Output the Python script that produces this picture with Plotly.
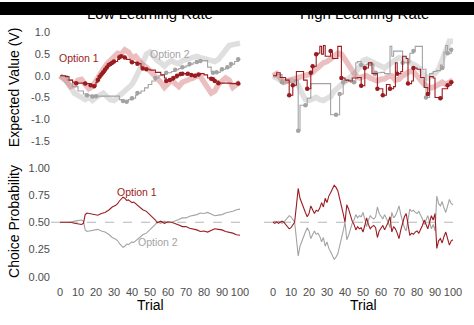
import plotly.graph_objects as go

W, H = 474, 325
FONT = "Liberation Sans, Arial, Helvetica, sans-serif"
RED = "#9b1c20"
GRAY = "#a3a3a3"
RED_THICK = "rgba(205,95,95,0.40)"
GRAY_THICK = "rgba(185,185,185,0.45)"
TICK_COLOR = "#4d4d4d"

x_ticks = list(range(0, 101, 10))
ev_ticks = [-1.5, -1.0, -0.5, 0.0, 0.5, 1.0]
ev_labels = ["-1.5", "-1.0", "-0.5", "0.0", "0.5", "1.0"]
prob_ticks = [0.0, 0.25, 0.5, 0.75, 1.0]
prob_labels = ["0.00", "0.25", "0.50", "0.75", "1.00"]
panel_titles = ["Low Learning Rate", "High Learning Rate"]
option_names = ["Option 1", "Option 2"]

# ---------------- Low learning rate ----------------
# true (latent) values of each option
low_true1_t = [0, 3, 6, 8, 10, 12, 14, 16, 18, 20, 22, 24, 26, 28, 30, 32, 34, 36, 38, 40, 42, 44, 46, 48,
               50, 52, 54, 56, 58, 60, 62, 64, 66, 68, 70, 72, 74, 76, 78, 80, 82, 84, 86, 88, 90, 92, 94,
               96, 98, 100]
low_true1_v = [0.0, -0.1, -0.25, -0.22, -0.1, -0.08, -0.2, -0.3, -0.25, -0.1, 0.05, 0.15, 0.27, 0.35, 0.45,
               0.52, 0.5, 0.6, 0.55, 0.42, 0.45, 0.35, 0.25, 0.2, 0.12, 0.05, -0.05, -0.15, -0.27, -0.2, -0.1,
               -0.18, -0.25, -0.15, -0.1, -0.08, -0.05, 0.0, -0.02, -0.15, -0.3, -0.4, -0.35, -0.2, -0.12,
               -0.05, -0.1, -0.27, -0.2, -0.15]
low_true2_t = [0, 2, 4, 6, 8, 10, 12, 14, 16, 18, 20, 22, 24, 26, 28, 30, 32, 34, 36, 38, 40, 42, 44, 46, 48,
               50, 52, 54, 56, 58, 60, 62, 64, 66, 68, 70, 72, 74, 76, 78, 80, 82, 84, 86, 88, 90, 92, 94,
               96, 98, 100]
low_true2_v = [0.0, -0.05, -0.15, -0.3, -0.4, -0.45, -0.5, -0.55, -0.5, -0.57, -0.5, -0.45, -0.4, -0.48,
               -0.55, -0.57, -0.5, -0.45, -0.38, -0.3, -0.2, -0.05, 0.1, 0.3, 0.5, 0.55, 0.45, 0.35, 0.3,
               0.22, 0.3, 0.35, 0.3, 0.28, 0.35, 0.38, 0.42, 0.45, 0.45, 0.42, 0.4, 0.38, 0.35, 0.33, 0.38,
               0.5, 0.62, 0.7, 0.72, 0.75, 0.75]

# learned values (updated on chosen trials)
low_est1_t = [0, 3, 5, 7, 9, 12, 14, 17, 19, 20, 21, 22, 23, 24, 25, 26, 27, 28, 29, 30, 32, 33, 34, 36,
              37, 39, 40, 43, 45, 46, 48, 50, 53, 56, 58, 59, 61, 63, 65, 67, 68, 70, 71, 73, 75, 77, 78,
              80, 82, 84, 85, 86, 88, 92, 95, 99]
low_est1_v = [0.0, -0.02, -0.1, -0.15, -0.17, -0.17, -0.18, -0.22, -0.24, -0.15, -0.1, -0.02, 0.03, 0.08,
              0.14, 0.19, 0.25, 0.27, 0.3, 0.33, 0.38, 0.43, 0.45, 0.42, 0.38, 0.33, 0.31, 0.28, 0.2, 0.17,
              0.15, 0.13, 0.08, 0.02, -0.05, -0.12, -0.1, -0.05, 0.0, 0.04, 0.05, 0.02, 0.05, 0.02, 0.0,
              0.03, 0.05, 0.02, -0.05, -0.07, -0.08, -0.12, -0.17, -0.17, -0.18, -0.18]
low_dots1 = [9, 14, 17, 19, 21, 22, 23, 24, 25, 26, 27, 28, 29, 30, 33, 34, 36, 40, 43, 46, 48, 59, 61,
             63, 65, 67, 68, 71, 73, 75, 77, 84, 85, 86, 88, 99]

low_est2_t = [0, 4, 7, 10, 13, 15, 18, 20, 33, 35, 37, 38, 40, 42, 43, 45, 47, 49, 51, 53, 55, 57, 59, 62,
              64, 66, 68, 70, 72, 74, 76, 78, 79, 82, 84, 85, 87, 89, 90, 92, 93, 95, 97, 99]
low_est2_v = [0.0, -0.1, -0.25, -0.35, -0.42, -0.45, -0.48, -0.47, -0.55, -0.58, -0.6, -0.55, -0.52, -0.45,
              -0.4, -0.35, -0.28, -0.2, -0.12, -0.05, 0.0, 0.03, 0.07, 0.1, 0.14, 0.17, 0.2, 0.23, 0.27,
              0.3, 0.32, 0.34, 0.35, 0.2, 0.1, 0.07, 0.08, 0.12, 0.15, 0.18, 0.2, 0.27, 0.33, 0.38]
low_dots2 = [15, 18, 20, 35, 37, 40, 43, 53, 59, 64, 68, 72, 76, 78, 85, 87, 90, 93, 95, 99]

low_prob_t = [0, 2, 4, 6, 8, 10, 12, 13, 14, 15, 17, 19, 21, 23, 25, 27, 29, 31, 32, 33, 35, 36, 37, 38,
              40, 41, 43, 45, 46, 48, 50, 52, 53, 54, 56, 58, 60, 62, 64, 66, 68, 70, 72, 74, 76, 78, 80,
              82, 84, 86, 88, 90, 92, 94, 96, 98, 100]
low_prob1 = [0.50, 0.50, 0.505, 0.50, 0.49, 0.485, 0.48, 0.49, 0.57, 0.585, 0.58, 0.575, 0.565, 0.58, 0.59,
             0.61, 0.64, 0.655, 0.67, 0.695, 0.73, 0.72, 0.70, 0.705, 0.68, 0.685, 0.655, 0.63, 0.615, 0.60,
             0.57, 0.54, 0.52, 0.495, 0.51, 0.49, 0.505, 0.50, 0.49, 0.475, 0.46, 0.46, 0.445, 0.44, 0.43,
             0.415, 0.42, 0.41, 0.425, 0.44, 0.435, 0.43, 0.415, 0.41, 0.40, 0.385, 0.38]

# ---------------- High learning rate ----------------
high_true1_t = list(range(0, 101, 2))
high_true1_v = [0.0, 0.05, -0.05, -0.15, -0.12, -0.1, -0.08, -0.04, -0.02, 0.0, 0.03, 0.08, 0.15, 0.25,
                0.3, 0.33, 0.38, 0.45, 0.52, 0.5, 0.38, 0.22, 0.12, 0.0, -0.05, -0.02, 0.0, -0.05, -0.1,
                -0.12, -0.08, -0.07, -0.02, 0.0, -0.1, -0.08, 0.0, 0.05, 0.1, 0.1, 0.0, -0.1, -0.2, -0.25,
                -0.28, -0.25, -0.2, -0.15, -0.2, -0.15, -0.1]
high_true2_t = list(range(0, 101, 2))
high_true2_v = [0.0, -0.05, -0.1, -0.15, -0.12, -0.1, -0.15, -0.22, -0.4, -0.55, -0.57, -0.52, -0.5, -0.55,
                -0.57, -0.52, -0.48, -0.35, -0.28, -0.22, -0.15, -0.08, 0.0, 0.08, 0.2, 0.35, 0.38, 0.34,
                0.3, 0.27, 0.22, 0.18, 0.25, 0.3, 0.38, 0.42, 0.4, 0.36, 0.3, 0.27, 0.22, 0.15, 0.0, -0.05,
                0.0, 0.05, 0.15, 0.35, 0.6, 0.8, 0.8]

high_est1_t = [0, 2, 4, 7, 9, 11, 13, 17, 19, 21, 22, 24, 25, 26, 27, 28, 29, 31, 32, 33, 35, 36, 38, 40,
               42, 44, 47, 49, 51, 53, 55, 58, 61, 63, 65, 67, 68, 69, 71, 72, 74, 75, 77, 78, 80, 82, 84,
               86, 87, 89, 90, 93, 94, 96, 97, 99]
high_est1_v = [0.0, 0.07, -0.04, -0.1, -0.45, -0.22, 0.1, -0.1, -0.3, 0.07, 0.22, 0.5, 0.52, 0.68, 0.5,
               0.7, 0.45, 0.45, 0.57, 0.4, 0.4, 0.68, -0.05, -0.1, -0.12, -0.05, -0.04, -0.23, 0.18, 0.3,
               0.05, -0.3, -0.45, -0.2, -0.3, -0.25, 0.3, 0.05, 0.1, 0.45, 0.4, -0.18, -0.12, 0.18, 0.15,
               -0.04, -0.27, -0.42, -0.02, -0.05, -0.5, -0.52, -0.3, -0.3, -0.22, -0.15]
high_dots1 = [9, 11, 19, 21, 22, 24, 32, 38, 49, 51, 58, 61, 65, 69, 75, 78, 86, 93, 97, 99]

high_est2_t = [0, 2, 5, 8, 12, 14, 15, 18, 19, 21, 31, 32, 35, 37, 39, 41, 43, 45, 46, 47, 49, 52, 54, 56,
               57, 60, 62, 64, 65, 66, 67, 70, 72, 74, 76, 78, 79, 82, 83, 85, 87, 89, 91, 93, 94, 95, 96,
               97, 99]
high_est2_v = [0.0, 0.03, -0.15, -0.15, -0.1, -1.27, -0.68, -0.68, -0.52, -0.18, -0.18, -0.9, -0.9, -0.42,
               -0.15, -0.1, -0.15, -0.15, 0.3, 0.33, 0.25, 0.27, 0.27, 0.0, 0.07, 0.08, 0.05, 0.05, 0.68,
               0.45, 0.57, 0.57, 0.3, 0.3, 0.52, 0.57, 0.68, 0.68, 0.15, -0.5, 0.05, 0.1, 0.12, 0.25, 0.18,
               0.55, 0.7, 0.52, 0.6]
high_dots2 = [5, 14, 18, 35, 37, 39, 45, 49, 54, 57, 72, 78, 85, 94, 97, 99]

high_prob_t = list(range(0, 101))
high_prob1 = [0.50, 0.49, 0.505, 0.49, 0.50, 0.51, 0.50, 0.48, 0.46, 0.44, 0.45, 0.47, 0.50, 0.65, 0.81,
              0.72, 0.67, 0.64, 0.59, 0.55, 0.58, 0.65, 0.61, 0.58, 0.61, 0.60, 0.63, 0.68, 0.64, 0.72,
              0.68, 0.74, 0.77, 0.80, 0.84, 0.82, 0.79, 0.72, 0.66, 0.58, 0.50, 0.66, 0.62, 0.56, 0.51,
              0.48, 0.43, 0.46, 0.44, 0.45, 0.41, 0.47, 0.54, 0.48, 0.44, 0.46, 0.47, 0.45, 0.36, 0.42,
              0.44, 0.47, 0.43, 0.46, 0.50, 0.55, 0.41, 0.46, 0.44, 0.40, 0.35, 0.43, 0.50, 0.55, 0.58,
              0.47, 0.38, 0.40, 0.39, 0.41, 0.42, 0.40, 0.43, 0.47, 0.52, 0.48, 0.44, 0.50, 0.56, 0.52,
              0.58, 0.26, 0.33, 0.35, 0.31, 0.37, 0.41, 0.35, 0.29, 0.33, 0.34]

panels = [
    dict(true1=(low_true1_t, low_true1_v), true2=(low_true2_t, low_true2_v),
         est1=(low_est1_t, low_est1_v, low_dots1), est2=(low_est2_t, low_est2_v, low_dots2),
         prob=(low_prob_t, low_prob1)),
    dict(true1=(high_true1_t, high_true1_v), true2=(high_true2_t, high_true2_v),
         est1=(high_est1_t, high_est1_v, high_dots1), est2=(high_est2_t, high_est2_v, high_dots2),
         prob=(high_prob_t, high_prob1)),
]


def px(x):
    return x / W


def py(y):
    return 1 - y / H


x_domains = [[px(51), px(249)], [px(264), px(462)]]
top_domain = [py(144.4), py(26.4)]
bot_domain = [py(282.8), py(161.8)]
title_centers = [150, 364]

fig = go.Figure()

for i, p in enumerate(panels):
    n_top = 1 + i          # axes 1, 2 -> top row
    n_bot = 3 + i          # axes 3, 4 -> bottom row
    xt, yt = f"x{n_top if n_top > 1 else ''}", f"y{n_top if n_top > 1 else ''}"
    xb, yb = f"x{n_bot}", f"y{n_bot}"

    # thick latent-value lines
    for (tt, vv), col in [(p["true2"], GRAY_THICK), (p["true1"], RED_THICK)]:
        fig.add_trace(go.Scatter(x=tt, y=vv, mode="lines", xaxis=xt, yaxis=yt,
                                 line=dict(color=col, width=5.5), showlegend=False))
    # learned values as step lines, dots on chosen trials
    for (tt, vv, dots), col in [(p["est2"], GRAY), (p["est1"], RED)]:
        ext_t = list(tt) + [100]
        ext_v = list(vv) + [vv[-1]]
        fig.add_trace(go.Scatter(x=ext_t, y=ext_v, mode="lines", xaxis=xt, yaxis=yt,
                                 line=dict(color=col, width=1.1, shape="hv"), showlegend=False))
        lookup = dict(zip(tt, vv))
        fig.add_trace(go.Scatter(x=dots, y=[lookup[d] for d in dots], mode="markers",
                                 xaxis=xt, yaxis=yt, marker=dict(color=col, size=4.5),
                                 showlegend=False))

    # choice probabilities
    tp, p1 = p["prob"]
    p2 = [1 - v for v in p1]
    fig.add_shape(type="line", xref=f"{xb} domain", yref=yb, x0=0, x1=1, y0=0.5, y1=0.5,
                  line=dict(color="#b5b5b5", width=1, dash="dash"), layer="below")
    fig.add_trace(go.Scatter(x=tp, y=p2, mode="lines", xaxis=xb, yaxis=yb,
                             line=dict(color=GRAY, width=1.1), showlegend=False))
    fig.add_trace(go.Scatter(x=tp, y=p1, mode="lines", xaxis=xb, yaxis=yb,
                             line=dict(color=RED, width=1.1), showlegend=False))

axis_common = dict(showgrid=False, zeroline=False, showline=False, ticks="",
                   tickfont=dict(family=FONT, size=11, color=TICK_COLOR))
layout = dict(
    width=W, height=H, margin=dict(l=0, r=0, t=0, b=0),
    paper_bgcolor="white", plot_bgcolor="white", showlegend=False,
    font=dict(family=FONT),
)
for i in range(2):
    n_top, n_bot = 1 + i, 3 + i
    kt = "" if n_top == 1 else str(n_top)
    layout[f"xaxis{kt}"] = dict(axis_common, domain=x_domains[i], range=[-5, 105],
                                showticklabels=False, anchor=f"y{kt}")
    layout[f"yaxis{kt}"] = dict(axis_common, domain=top_domain, range=[-1.6, 1.1],
                                tickvals=ev_ticks, ticktext=ev_labels,
                                showticklabels=(i == 0), anchor=f"x{kt}")
    layout[f"xaxis{n_bot}"] = dict(axis_common, domain=x_domains[i], range=[-5, 105],
                                   tickvals=x_ticks, anchor=f"y{n_bot}", ticklabelstandoff=2)
    layout[f"yaxis{n_bot}"] = dict(axis_common, domain=bot_domain, range=[-0.05, 1.05],
                                   tickvals=prob_ticks, ticktext=prob_labels,
                                   showticklabels=(i == 0), anchor=f"x{n_bot}")
fig.update_layout(**layout)

ann = []
# panel titles (their upper part sits under the black header band)
for i in range(2):
    ann.append(dict(text=panel_titles[i], x=px(title_centers[i]), y=py(12), xref="paper", yref="paper",
                    showarrow=False, xanchor="center", yanchor="middle",
                    font=dict(family=FONT, size=15, color="black")))
# axis titles
for text, x, y, ang in [("Expected Value (V)", 14, 86, -90), ("Choice Probability", 14, 222, -90),
                        ("Trial", 150, 306, 0), ("Trial", 363, 306, 0)]:
    ann.append(dict(text=text, x=px(x), y=py(y), textangle=ang, xref="paper", yref="paper",
                    showarrow=False, xanchor="center", yanchor="middle",
                    font=dict(family=FONT, size=14, color="black")))
# series labels
series_labels = [
    dict(text=option_names[0], x=10.5, y=0.41, xref="x", yref="y", color=RED),
    dict(text=option_names[1], x=61, y=0.50, xref="x", yref="y", color=GRAY),
    dict(text=option_names[0], x=43, y=0.775, xref="x3", yref="y3", color=RED),
    dict(text=option_names[1], x=54.5, y=0.32, xref="x3", yref="y3", color=GRAY),
]
for s in series_labels:
    ann.append(dict(text=s["text"], x=s["x"], y=s["y"], xref=s["xref"], yref=s["yref"],
                    showarrow=False, xanchor="center", yanchor="middle",
                    font=dict(family=FONT, size=10.5, color=s["color"])))
# black header band across the top, drawn after the titles so it covers them
ann.append(dict(text=" ", x=0, y=1, xref="paper", yref="paper", xanchor="left", yanchor="top",
                showarrow=False, width=W, height=13, bgcolor="black", borderpad=0, borderwidth=0,
                font=dict(size=1)))
fig.update_layout(annotations=ann)

fig.write_html("out.html")
